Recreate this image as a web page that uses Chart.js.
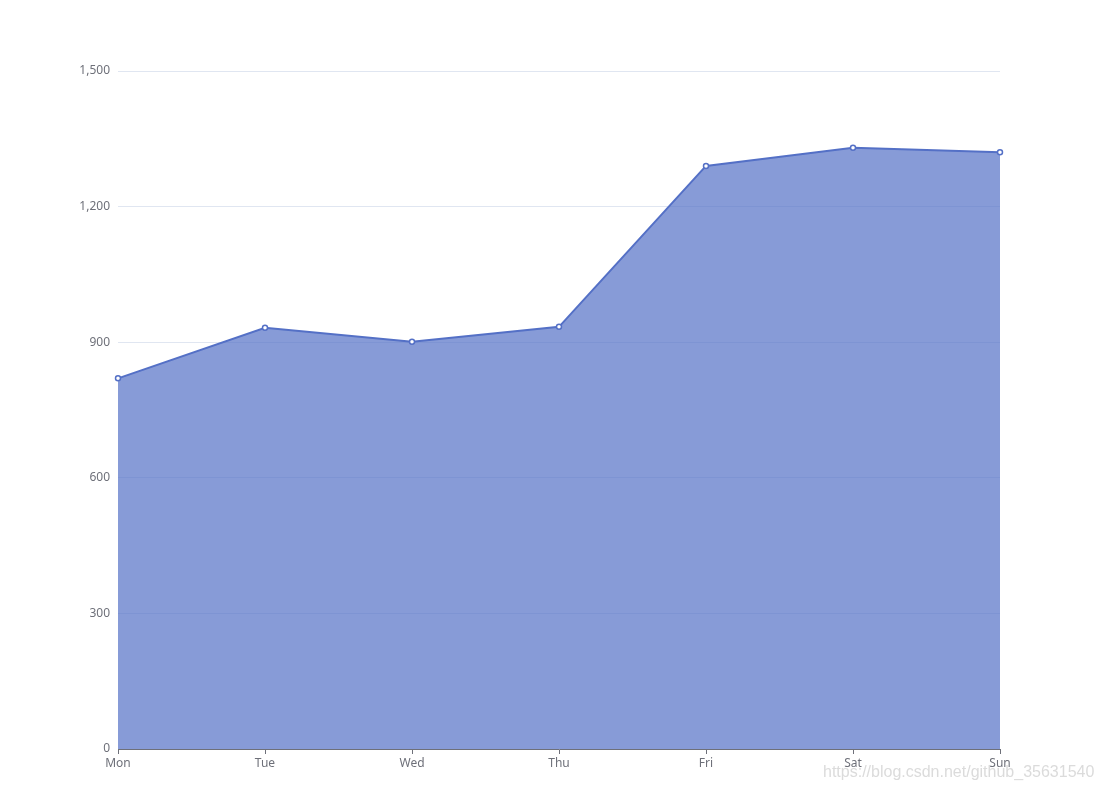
<!DOCTYPE html>
<html><head><meta charset="utf-8">
<script src="https://cdn.jsdelivr.net/npm/chart.js@4"></script>
<style>
html,body{margin:0;padding:0;background:#fff;}
#wrap{position:relative;width:1104px;height:791px;}
#wm{position:absolute;left:823px;top:763px;font-family:"Liberation Sans",Arial,sans-serif;font-size:16px;color:rgba(215,215,215,0.9);white-space:nowrap;}
</style></head>
<body>
<div id="wrap"><canvas id="c" width="1104" height="791"></canvas><div id="wm">https://blog.csdn.net/github_35631540</div></div>
<script>
const categories = ['Mon','Tue','Wed','Thu','Fri','Sat','Sun'];
const values = [820, 932, 901, 934, 1290, 1330, 1320];
const yTicks = [0, 300, 600, 900, 1200, 1500];

const ctx = document.getElementById('c').getContext('2d');
new Chart(ctx, {
  type: 'line',
  data: {
    labels: categories,
    datasets: [{
      data: values,
      borderColor: '#5470c6',
      borderWidth: 2,
      backgroundColor: 'rgba(84,112,198,0.7)',
      fill: 'origin',
      tension: 0,
      pointRadius: 2.5,
      pointBorderWidth: 1.5,
      pointBackgroundColor: '#fff',
      pointBorderColor: '#5470c6'
    }]
  },
  options: {
    responsive: false,
    devicePixelRatio: 1,
    animation: false,
    layout: { padding: { top: 71, right: 104, left: 0, bottom: 0 } },
    plugins: { legend: { display: false }, tooltip: { enabled: false } },
    scales: {
      x: {
        offset: false,
        grid: { display: true, drawOnChartArea: false, drawTicks: true, tickLength: 5, color: '#6e7079' },
        border: { display: true, color: '#6e7079', width: 1 },
        ticks: { color: '#6e7079', font: { family: 'Noto Sans, sans-serif', size: 12 }, padding: 2, maxRotation: 0, autoSkip: false },
        afterFit: s => { s.height = 42; }
      },
      y: {
        min: 0, max: 1500,
        afterBuildTicks: s => { s.ticks = yTicks.map(v => ({ value: v })); },
        grid: { color: '#e0e6f1', drawTicks: false, lineWidth: 1 },
        border: { display: false },
        ticks: { color: '#6e7079', font: { family: 'Noto Sans, sans-serif', size: 12 }, padding: 8,
          callback: v => v.toLocaleString('en-US') },
        afterFit: s => { s.width = 118; }
      }
    }
  }
});
</script>
</body></html>
